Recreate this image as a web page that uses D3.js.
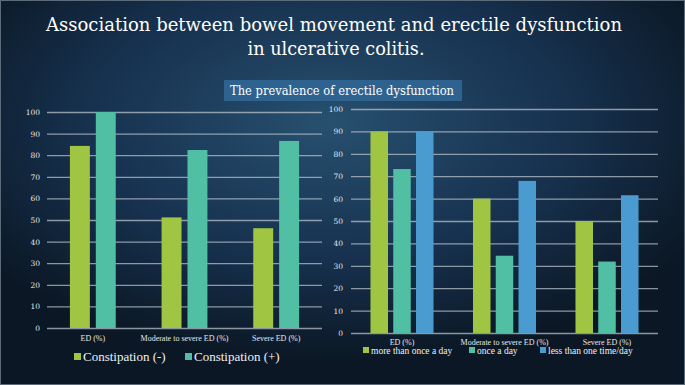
<!DOCTYPE html>
<html>
<head>
<meta charset="utf-8">
<script src="https://cdn.jsdelivr.net/npm/d3@7"></script>
<style>
  html, body { margin: 0; padding: 0; background: #0d1a28; }
  svg { display: block; }
</style>
</head>
<body>
<div id="chart"></div>
<script>
var categories = ["ED (%)", "Moderate to severe ED (%)", "Severe ED (%)"];

var leftSeries = ["Constipation (-)", "Constipation (+)"];
var constipationNeg = [84.3, 51.2, 46.2];
var constipationPos = [100, 82.4, 86.6];

var rightSeries = ["more than once a day", "once a day", "less than one time/day"];
var moreThanOnce = [90, 60, 50];
var onceADay = [73.2, 34.5, 31.9];
var lessThanOnce = [90, 67.9, 61.5];

var yTicks = [0, 10, 20, 30, 40, 50, 60, 70, 80, 90, 100];

var titleLines = ["Association between bowel movement and erectile dysfunction", "in ulcerative colitis."];
var subtitle = "The prevalence of erectile dysfunction";

var colors = ["#a0c542", "#50bfa3", "#4a9bd0"];

var W = 685, H = 385;

var svg = d3.select("#chart")
    .append("svg")
    .attr("width", W)
    .attr("height", H);

// background
var defs = svg.append("defs");
var grad = defs.append("radialGradient")
    .attr("id", "bg")
    .attr("cx", "48%").attr("cy", "32%").attr("r", "62%");
grad.append("stop").attr("offset", "0%").attr("stop-color", "#27506f");
grad.append("stop").attr("offset", "55%").attr("stop-color", "#173250");
grad.append("stop").attr("offset", "100%").attr("stop-color", "#0b1724");

svg.append("rect")
    .attr("width", W).attr("height", H)
    .attr("fill", "url(#bg)");
svg.append("rect")
    .attr("x", 0.5).attr("y", 0.5)
    .attr("width", W - 1).attr("height", H - 1)
    .attr("fill", "none")
    .attr("stroke", "#5c6b7a")
    .attr("stroke-width", 1);

// titles
svg.append("text")
    .attr("x", 334).attr("y", 31)
    .attr("text-anchor", "middle")
    .attr("textLength", 576)
    .attr("lengthAdjust", "spacingAndGlyphs")
    .style("font-family", "DejaVu Serif")
    .style("font-size", "18px")
    .style("fill", "#ffffff")
    .text(titleLines[0]);
svg.append("text")
    .attr("x", 336).attr("y", 55)
    .attr("text-anchor", "middle")
    .attr("textLength", 177)
    .attr("lengthAdjust", "spacingAndGlyphs")
    .style("font-family", "DejaVu Serif")
    .style("font-size", "18px")
    .style("fill", "#ffffff")
    .text(titleLines[1]);

svg.append("rect")
    .attr("x", 224).attr("y", 80)
    .attr("width", 238).attr("height", 21)
    .attr("fill", "#2e6390");
svg.append("text")
    .attr("x", 342).attr("y", 95)
    .attr("text-anchor", "middle")
    .attr("textLength", 224)
    .attr("lengthAdjust", "spacingAndGlyphs")
    .style("font-family", "DejaVu Serif")
    .style("font-size", "12px")
    .style("fill", "#ffffff")
    .text(subtitle);

function drawPanel(opt) {
    var g = svg.append("g");

    var y = d3.scaleLinear()
        .domain([0, 100])
        .range([opt.bottom, opt.top]);

    var x0 = d3.scaleBand()
        .domain(categories)
        .range([opt.left, opt.right])
        .paddingInner(opt.padInner)
        .paddingOuter(opt.padOuter);

    var x1 = d3.scaleBand()
        .domain(opt.series)
        .range([0, x0.bandwidth()])
        .paddingInner(0.23);

    // gridlines + tick labels
    var axis = g.append("g")
        .attr("transform", "translate(" + opt.left + ",0)")
        .call(d3.axisLeft(y)
            .tickValues(yTicks)
            .tickSize(-(opt.right - opt.left))
            .tickPadding(opt.tickPad));
    axis.select(".domain").remove();
    axis.selectAll("line")
        .attr("stroke", "#b7c0c9")
        .attr("stroke-opacity", 0.75)
        .attr("stroke-width", 1.3);
    axis.selectAll("text")
        .style("font-family", "DejaVu Serif")
        .style("font-size", "7.5px")
        .style("fill", "#e4e8ec");

    // bars
    var rows = categories.map(function(c, i) {
        return opt.series.map(function(s, j) {
            return {cat: c, series: s, value: opt.values[j][i], color: colors[j]};
        });
    });

    g.selectAll("g.grp")
        .data(rows)
        .enter()
        .append("g")
        .attr("class", "grp")
        .attr("transform", function(d, i) { return "translate(" + x0(categories[i]) + ",0)"; })
        .selectAll("rect")
        .data(function(d) { return d; })
        .enter()
        .append("rect")
        .attr("x", function(d) { return x1(d.series); })
        .attr("y", function(d) { return y(d.value); })
        .attr("width", x1.bandwidth())
        .attr("height", function(d) { return y(0) - y(d.value); })
        .attr("fill", function(d) { return d.color; });

    // category labels
    g.selectAll("text.cat")
        .data(categories)
        .enter()
        .append("text")
        .attr("class", "cat")
        .attr("x", function(d) { return x0(d) + x0.bandwidth() / 2; })
        .attr("y", opt.catY)
        .attr("text-anchor", "middle")
        .style("font-family", "Liberation Serif")
        .style("font-size", "8px")
        .style("fill", "#e4e8ec")
        .text(function(d) { return d; });

    // legend
    var leg = g.selectAll("g.leg")
        .data(opt.series)
        .enter()
        .append("g")
        .attr("class", "leg")
        .attr("transform", function(d, i) { return "translate(" + opt.legendX[i] + "," + opt.legendY + ")"; });
    leg.append("rect")
        .attr("x", 0).attr("y", -opt.legSq + 1)
        .attr("width", opt.legSq).attr("height", opt.legSq)
        .attr("fill", function(d, i) { return colors[i]; });
    leg.append("text")
        .attr("x", opt.legSq + 2)
        .attr("y", 2)
        .style("font-family", "Liberation Serif")
        .style("font-size", opt.legFont)
        .style("fill", "#eef1f4")
        .text(function(d) { return d; });
}

drawPanel({
    series: leftSeries,
    values: [constipationNeg, constipationPos],
    left: 47, right: 322, top: 112, bottom: 328,
    padInner: 0.5, padOuter: 0.25,
    tickPad: 7,
    catY: 341,
    legendX: [74, 185], legendY: 359, legSq: 7, legFont: "13px"
});

drawPanel({
    series: rightSeries,
    values: [moreThanOnce, onceADay, lessThanOnce],
    left: 351, right: 658, top: 109, bottom: 333,
    padInner: 0.385, padOuter: 0.19,
    tickPad: 8,
    catY: 345,
    legendX: [363, 469, 540], legendY: 352, legSq: 6, legFont: "9.5px"
});
</script>
</body>
</html>
